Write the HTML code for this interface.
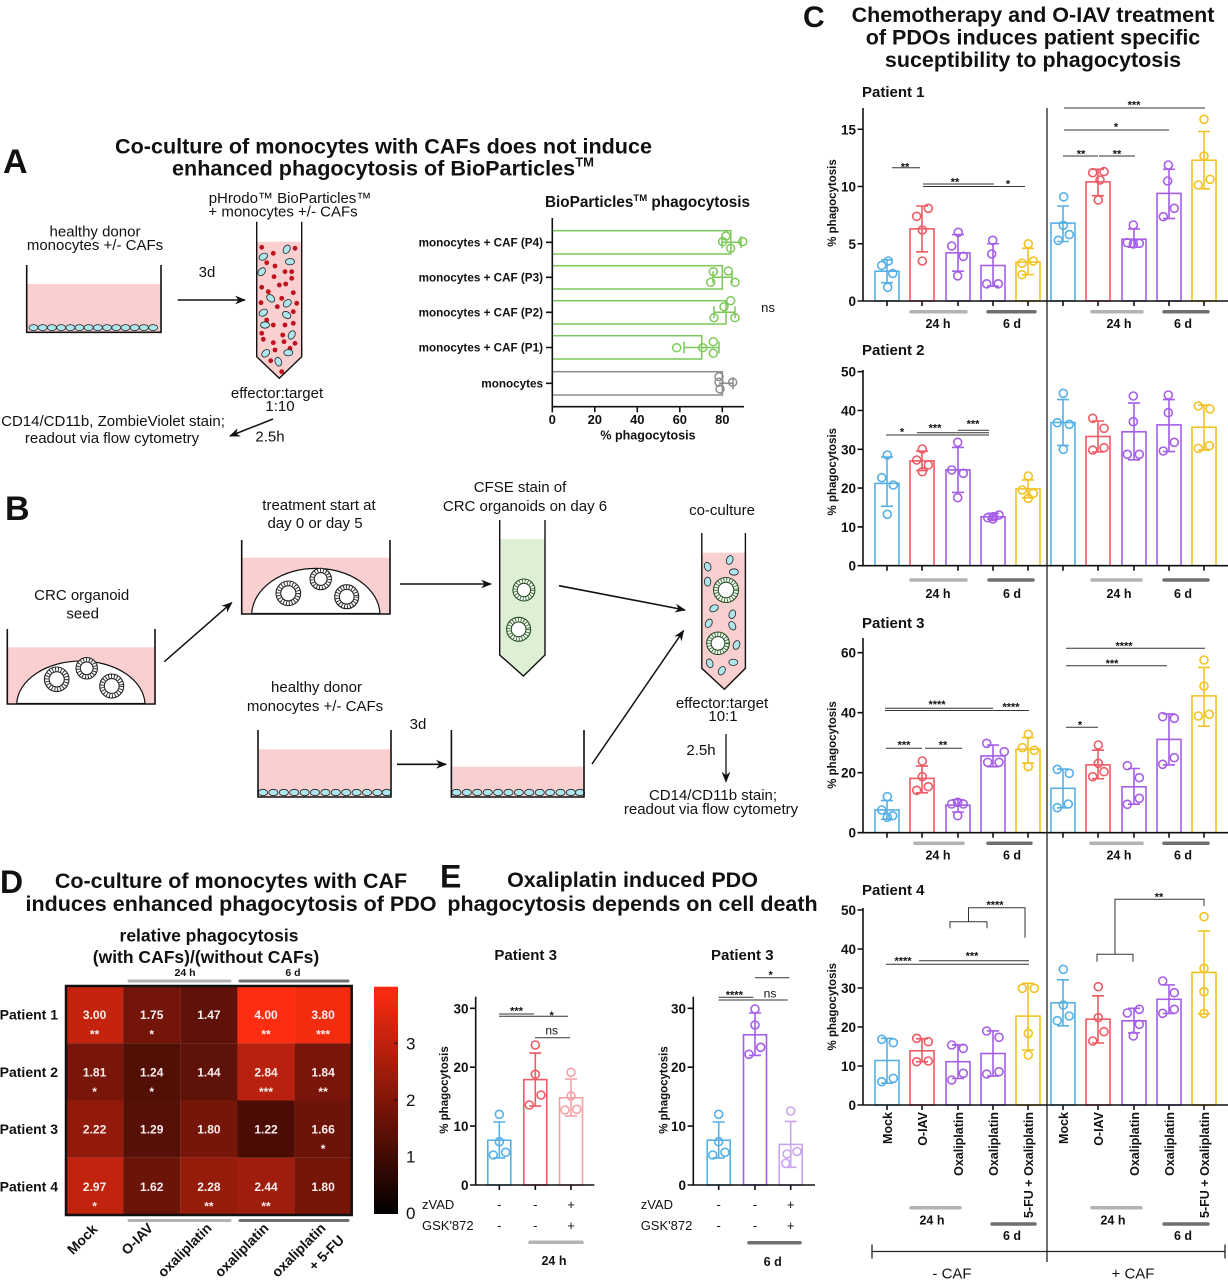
<!DOCTYPE html>
<html><head><meta charset="utf-8">
<style>
body{margin:0;background:#fff}
svg{display:block}
text{font-family:"Liberation Sans",Arial,sans-serif;fill:#111}
.b{font-weight:bold}
.ax{stroke:#111;stroke-width:1.6;fill:none}
.sg{stroke:#333;stroke-width:1;fill:none}
.st{font-size:11px;font-weight:bold;text-anchor:middle;fill:#222}
.tl{font-size:13.5px;font-weight:bold;text-anchor:end}
.m{text-anchor:middle}
.w{fill:#fbeeee}
.cell{fill:#aee6ee;stroke:#222;stroke-width:0.8}
.rd{fill:#c0121e}
</style></head>
<body>
<svg width="1228" height="1280" viewBox="0 0 1228 1280" xmlns="http://www.w3.org/2000/svg">
<defs>
<marker id="ah" viewBox="0 0 10 10" refX="9" refY="5" markerWidth="11" markerHeight="11" markerUnits="userSpaceOnUse" orient="auto"><path d="M0,1 L10,5 L0,9 L3,5 Z" fill="#111"/></marker>
<linearGradient id="cbar" x1="0" y1="1" x2="0" y2="0"><stop offset="0" stop-color="#000"/><stop offset="1" stop-color="#ff2c10"/></linearGradient>
</defs>
<rect width="1228" height="1280" fill="#fff"/>

<!-- ================= PANEL A ================= -->
<text x="3" y="173" class="b" font-size="34">A</text>
<text x="115" y="153.5" class="b" font-size="21.6" textLength="537" lengthAdjust="spacingAndGlyphs">Co-culture of monocytes with CAFs does not induce</text>
<text x="172" y="175.5" class="b" font-size="21.6">enhanced phagocytosis of BioParticles<tspan dy="-9" font-size="13">TM</tspan></text>

<text x="95" y="236.5" class="m" font-size="15">healthy donor</text>
<text x="95" y="250" class="m" font-size="15">monocytes +/- CAFs</text>
<rect x="27.5" y="284" width="132.7" height="47.5" fill="#f9cfcf"/>
<g>
<ellipse class="cell" cx="33.5" cy="327.6" rx="4.5" ry="3"/><ellipse class="cell" cx="42.7" cy="327.6" rx="4.5" ry="3"/><ellipse class="cell" cx="51.9" cy="327.6" rx="4.5" ry="3"/><ellipse class="cell" cx="61.1" cy="327.6" rx="4.5" ry="3"/><ellipse class="cell" cx="70.3" cy="327.6" rx="4.5" ry="3"/><ellipse class="cell" cx="79.5" cy="327.6" rx="4.5" ry="3"/><ellipse class="cell" cx="88.7" cy="327.6" rx="4.5" ry="3"/><ellipse class="cell" cx="97.9" cy="327.6" rx="4.5" ry="3"/><ellipse class="cell" cx="107.1" cy="327.6" rx="4.5" ry="3"/><ellipse class="cell" cx="116.3" cy="327.6" rx="4.5" ry="3"/><ellipse class="cell" cx="125.5" cy="327.6" rx="4.5" ry="3"/><ellipse class="cell" cx="134.7" cy="327.6" rx="4.5" ry="3"/><ellipse class="cell" cx="143.9" cy="327.6" rx="4.5" ry="3"/><ellipse class="cell" cx="153.1" cy="327.6" rx="4.5" ry="3"/>
</g>
<path d="M26.7 265V332.3H161V265" fill="none" stroke="#111" stroke-width="1.6"/>
<path d="M177.7 300H245" stroke="#111" stroke-width="1.6" marker-end="url(#ah)"/>
<text x="207" y="277" class="m" font-size="15">3d</text>

<text x="290" y="203" class="m" font-size="15">pHrodo™ BioParticles™</text>
<text x="283" y="216.5" class="m" font-size="15">+ monocytes +/- CAFs</text>
<path d="M256.7 241.7V356.7L279.3 378.3L301.7 356.7V241.7Z" fill="#f9cfcf"/>
<g class="rd">
<circle cx="261.7" cy="247.3" r="2.4"/><circle cx="295" cy="248.3" r="2.4"/><circle cx="273.3" cy="253.3" r="2.4"/><circle cx="266.7" cy="262.7" r="2.4"/><circle cx="275" cy="266" r="2.4"/><circle cx="285" cy="271.7" r="2.4"/><circle cx="291.7" cy="271.7" r="2.4"/><circle cx="274" cy="276.7" r="2.4"/><circle cx="291.7" cy="278.3" r="2.4"/><circle cx="279.3" cy="285" r="2.4"/><circle cx="285.7" cy="284" r="2.4"/><circle cx="261.7" cy="287.3" r="2.4"/><circle cx="268.3" cy="291.7" r="2.4"/><circle cx="293.3" cy="292.7" r="2.4"/><circle cx="281.7" cy="298.3" r="2.4"/><circle cx="296.7" cy="303.3" r="2.4"/><circle cx="261" cy="302.7" r="2.4"/><circle cx="277.3" cy="306.7" r="2.4"/><circle cx="293.3" cy="311.7" r="2.4"/><circle cx="266.7" cy="320" r="2.4"/><circle cx="273.3" cy="325" r="2.4"/><circle cx="285" cy="325" r="2.4"/><circle cx="261.7" cy="333.3" r="2.4"/><circle cx="282.7" cy="335" r="2.4"/><circle cx="293.3" cy="323.3" r="2.4"/><circle cx="263.3" cy="339.3" r="2.4"/><circle cx="273.3" cy="342.7" r="2.4"/><circle cx="284" cy="341.7" r="2.4"/><circle cx="295" cy="343.3" r="2.4"/><circle cx="275" cy="350" r="2.4"/><circle cx="290" cy="348.3" r="2.4"/><circle cx="270.7" cy="360.7" r="2.4"/><circle cx="281.7" cy="371.7" r="2.4"/>
</g>
<g>
<ellipse class="cell" cx="286.7" cy="249.3" rx="4.5" ry="3.2" transform="rotate(-60 286.7 249.3)"/><ellipse class="cell" cx="263.3" cy="256.7" rx="4.5" ry="3.2" transform="rotate(-30 263.3 256.7)"/><ellipse class="cell" cx="290" cy="261.7" rx="4.5" ry="3.2"/><ellipse class="cell" cx="261.7" cy="271.7" rx="4.5" ry="3.2" transform="rotate(-50 261.7 271.7)"/><ellipse class="cell" cx="270.7" cy="298.3" rx="4.5" ry="3.2" transform="rotate(40 270.7 298.3)"/><ellipse class="cell" cx="287.3" cy="303.3" rx="4.5" ry="3.2" transform="rotate(-40 287.3 303.3)"/><ellipse class="cell" cx="263.3" cy="312.7" rx="4.5" ry="3.2" transform="rotate(-30 263.3 312.7)"/><ellipse class="cell" cx="286.7" cy="315" rx="4.5" ry="3.2" transform="rotate(30 286.7 315)"/><ellipse class="cell" cx="265" cy="325" rx="4.5" ry="3.2"/><ellipse class="cell" cx="291.7" cy="335" rx="4.5" ry="3.2" transform="rotate(-60 291.7 335)"/><ellipse class="cell" cx="288.3" cy="352.7" rx="4.5" ry="3.2"/><ellipse class="cell" cx="265.7" cy="353.3" rx="4.5" ry="3.2" transform="rotate(-40 265.7 353.3)"/><ellipse class="cell" cx="278.3" cy="361.7" rx="4.5" ry="3.2" transform="rotate(70 278.3 361.7)"/>
</g>
<path d="M256.7 221.7V356.7L279.3 378.3L301.7 356.7V221.7" fill="none" stroke="#111" stroke-width="1.4"/>
<text x="277" y="398" class="m" font-size="15">effector:target</text>
<text x="280" y="411" class="m" font-size="15">1:10</text>
<path d="M273 419L230 436" stroke="#111" stroke-width="1.5" marker-end="url(#ah)"/>
<text x="270" y="441.5" class="m" font-size="15">2.5h</text>
<text x="113" y="426" class="m" font-size="15">CD14/CD11b, ZombieViolet stain;</text>
<text x="112" y="443" class="m" font-size="15">readout via flow cytometry</text>

<!-- Panel A chart -->
<text x="545" y="207" class="b" font-size="15.3">BioParticles<tspan dy="-6" font-size="9.5">TM</tspan><tspan dy="6"> phagocytosis</tspan></text>
<g fill="none" stroke-width="1.5">
<g stroke="#7cc95a">
<rect x="552.3" y="230.7" width="178.5" height="23.3"/>
<rect x="552.3" y="265.7" width="170" height="23.3"/>
<rect x="552.3" y="300.7" width="173.7" height="23.3"/>
<rect x="552.3" y="335.7" width="149.4" height="23.3"/>
<path d="M722 242.3H741M741 236.3v12M722 236.3v12"/>
<path d="M713 277.3H732M732 271.3v12M713 271.3v12"/>
<path d="M714 312.3H735M735 306.3v12M714 306.3v12"/>
<path d="M684 347.5H719M719 341.5v12M684 341.5v12"/>
<circle cx="726" cy="236" r="4"/><circle cx="722.7" cy="241.7" r="4"/><circle cx="742.7" cy="241.7" r="4"/><circle cx="730.7" cy="248.3" r="4"/>
<circle cx="713.3" cy="271.7" r="4"/><circle cx="728.3" cy="271" r="4"/><circle cx="710.7" cy="282.3" r="4"/><circle cx="735" cy="282.3" r="4"/>
<circle cx="730.7" cy="300.7" r="4"/><circle cx="724" cy="306.7" r="4"/><circle cx="714" cy="317.7" r="4"/><circle cx="735" cy="317.7" r="4"/>
<circle cx="676.7" cy="347.7" r="4"/><circle cx="702.7" cy="347.7" r="4"/><circle cx="713.3" cy="341.7" r="4"/><circle cx="713.3" cy="353.3" r="4"/>
</g>
<g stroke="#8c8c8c">
<rect x="552.3" y="371.7" width="170" height="23.3"/>
<path d="M719 383.3H733M733 377.3v12"/>
<circle cx="719" cy="376.7" r="4"/><circle cx="719" cy="382.3" r="4"/><circle cx="720" cy="389" r="4"/><circle cx="732.7" cy="382.3" r="4"/>
</g>
</g>
<path class="ax" d="M552.3 218V406.7H744M546 242.3h6.3M546 277.3h6.3M546 312.3h6.3M546 347.5h6.3M546 383.3h6.3M552.3 406.7v5.5M594.8 406.7v5.5M637.3 406.7v5.5M679.8 406.7v5.5M722.3 406.7v5.5"/>
<g class="b" font-size="11.7" text-anchor="end">
<text x="543" y="246.3">monocytes + CAF (P4)</text>
<text x="543" y="281.3">monocytes + CAF (P3)</text>
<text x="543" y="316.3">monocytes + CAF (P2)</text>
<text x="543" y="351.5">monocytes + CAF (P1)</text>
<text x="543" y="387.3">monocytes</text>
</g>
<g class="b m" font-size="13">
<text x="552.3" y="424">0</text><text x="594.8" y="424">20</text><text x="637.3" y="424">40</text><text x="679.8" y="424">60</text><text x="722.3" y="424">80</text>
</g>
<text x="648" y="439.5" class="b m" font-size="12.5">% phagocytosis</text>
<text x="768" y="312" class="m" font-size="13">ns</text>

<!-- ================= PANEL B ================= -->
<text x="5" y="520" class="b" font-size="34">B</text>
<text x="81.7" y="600" class="m" font-size="15">CRC organoid</text>
<text x="82.7" y="618.5" class="m" font-size="15">seed</text>
<rect x="8" y="647.3" width="146.3" height="56" fill="#f9cfcf"/>
<path d="M16.7 703.5A64.2 44.2 0 0 1 145 703.5Z" fill="#fff" stroke="#111" stroke-width="1.2"/>
<g fill="#fff" stroke="#222">
<g transform="translate(56.7 679.3)"><circle r="12.3" stroke-width="1.1"/><circle r="9.9" fill="none" stroke-width="3.6" stroke-dasharray="0.9 1.9"/><circle r="7.6" stroke-width="1.1"/></g>
<g transform="translate(86.7 668.3)"><circle r="10.7" stroke-width="1.1"/><circle r="8.5" fill="none" stroke-width="3.2" stroke-dasharray="0.9 1.9"/><circle r="6.4" stroke-width="1.1"/></g>
<g transform="translate(111.7 686)"><circle r="12" stroke-width="1.1"/><circle r="9.7" fill="none" stroke-width="3.6" stroke-dasharray="0.9 1.9"/><circle r="7.4" stroke-width="1.1"/></g>
</g>
<path d="M7.3 629V704H155V629" fill="none" stroke="#111" stroke-width="1.6"/>
<path d="M164.3 661.7L231.7 602.7" stroke="#111" stroke-width="1.5" marker-end="url(#ah)"/>

<text x="319" y="510" class="m" font-size="15">treatment start at</text>
<text x="315" y="528" class="m" font-size="15">day 0 or day 5</text>
<rect x="242.5" y="557.7" width="147.5" height="56" fill="#f9cfcf"/>
<path d="M251.7 613.5A64.2 47 0 0 1 380 613.5Z" fill="#fff" stroke="#111" stroke-width="1.2"/>
<g fill="#fff" stroke="#222">
<g transform="translate(288.3 593.3)"><circle r="12.3" stroke-width="1.1"/><circle r="9.9" fill="none" stroke-width="3.6" stroke-dasharray="0.9 1.9"/><circle r="7.6" stroke-width="1.1"/></g>
<g transform="translate(320.7 579)"><circle r="10.7" stroke-width="1.1"/><circle r="8.5" fill="none" stroke-width="3.2" stroke-dasharray="0.9 1.9"/><circle r="6.4" stroke-width="1.1"/></g>
<g transform="translate(346.7 596.7)"><circle r="12" stroke-width="1.1"/><circle r="9.7" fill="none" stroke-width="3.6" stroke-dasharray="0.9 1.9"/><circle r="7.4" stroke-width="1.1"/></g>
</g>
<path d="M241.7 540V614H390V540" fill="none" stroke="#111" stroke-width="1.6"/>
<path d="M400 584H491" stroke="#111" stroke-width="1.6" marker-end="url(#ah)"/>

<text x="520" y="492" class="m" font-size="15">CFSE stain of</text>
<text x="525" y="511" class="m" font-size="15">CRC organoids on day 6</text>
<path d="M499.7 539V655L523.4 676L545 655V539Z" fill="#ddf0d6"/>
<g fill="#fff" stroke="#264d22">
<g transform="translate(523.9 590)"><circle r="11" stroke-width="1.1"/><circle r="8.8" fill="none" stroke="#2f6a2a" stroke-width="3.2" stroke-dasharray="0.9 1.9"/><circle r="6.7" stroke-width="1.1"/></g>
<g transform="translate(518.6 629.3)"><circle r="12" stroke-width="1.1"/><circle r="9.7" fill="none" stroke="#2f6a2a" stroke-width="3.6" stroke-dasharray="0.9 1.9"/><circle r="7.4" stroke-width="1.1"/></g>
</g>
<path d="M499.7 520V655L523.4 676L545 655V520" fill="none" stroke="#111" stroke-width="1.4"/>
<path d="M559 585.7L685 610" stroke="#111" stroke-width="1.6" marker-end="url(#ah)"/>

<text x="722" y="515" class="m" font-size="15">co-culture</text>
<path d="M701.8 552.7V668.3L724.4 689.3L745.4 668.3V552.7Z" fill="#f9cfcf"/>
<g>
<ellipse class="cell" cx="729.7" cy="560" rx="3.2" ry="4.5" transform="rotate(20 729.7 560)"/><ellipse class="cell" cx="707.6" cy="566.7" rx="3.2" ry="4.5" transform="rotate(-20 707.6 566.7)"/><ellipse class="cell" cx="733.9" cy="572" rx="4.5" ry="3.2"/><ellipse class="cell" cx="707.6" cy="581.7" rx="3.2" ry="4.5"/><ellipse class="cell" cx="714" cy="608.3" rx="4.5" ry="3.2" transform="rotate(-30 714 608.3)"/><ellipse class="cell" cx="732.3" cy="614.3" rx="3.2" ry="4.5" transform="rotate(20 732.3 614.3)"/><ellipse class="cell" cx="708.7" cy="623.3" rx="3.2" ry="4.5" transform="rotate(30 708.7 623.3)"/><ellipse class="cell" cx="732.3" cy="625.7" rx="3.2" ry="4.5" transform="rotate(-30 732.3 625.7)"/><ellipse class="cell" cx="736.5" cy="645" rx="3.2" ry="4.5" transform="rotate(20 736.5 645)"/><ellipse class="cell" cx="709.7" cy="663.3" rx="3.2" ry="4.5" transform="rotate(-20 709.7 663.3)"/><ellipse class="cell" cx="733.3" cy="662.3" rx="4.5" ry="3.2"/><ellipse class="cell" cx="721.8" cy="670.7" rx="3.2" ry="4.5" transform="rotate(30 721.8 670.7)"/>
</g>
<g fill="#fff" stroke="#264d22">
<g transform="translate(726 590)"><circle r="12.5" stroke-width="1.1"/><circle r="10.1" fill="none" stroke="#2f6a2a" stroke-width="3.6" stroke-dasharray="0.9 1.9"/><circle r="7.8" stroke-width="1.1"/></g>
<g transform="translate(718 643.3)"><circle r="11.3" stroke-width="1.1"/><circle r="9.1" fill="none" stroke="#2f6a2a" stroke-width="3.4" stroke-dasharray="0.9 1.9"/><circle r="6.9" stroke-width="1.1"/></g>
</g>
<path d="M701.8 533V668.3L724.4 689.3L745.4 668.3V533" fill="none" stroke="#111" stroke-width="1.4"/>
<text x="722" y="708" class="m" font-size="15">effector:target</text>
<text x="723" y="721" class="m" font-size="15">10:1</text>
<path d="M726 734V781.7" stroke="#111" stroke-width="1.3" marker-end="url(#ah)"/>
<text x="701" y="755" class="m" font-size="15">2.5h</text>
<text x="713" y="800" class="m" font-size="15">CD14/CD11b stain;</text>
<text x="711" y="814" class="m" font-size="15">readout via flow cytometry</text>

<text x="316.5" y="692" class="m" font-size="15">healthy donor</text>
<text x="315" y="711" class="m" font-size="15">monocytes +/- CAFs</text>
<rect x="259" y="749.3" width="131.2" height="47" fill="#f9cfcf"/>
<g>
<ellipse class="cell" cx="263" cy="792.5" rx="4.6" ry="3.2"/><ellipse class="cell" cx="273.4" cy="792.5" rx="4.6" ry="3.2"/><ellipse class="cell" cx="283.8" cy="792.5" rx="4.6" ry="3.2"/><ellipse class="cell" cx="294.2" cy="792.5" rx="4.6" ry="3.2"/><ellipse class="cell" cx="304.6" cy="792.5" rx="4.6" ry="3.2"/><ellipse class="cell" cx="315" cy="792.5" rx="4.6" ry="3.2"/><ellipse class="cell" cx="325.4" cy="792.5" rx="4.6" ry="3.2"/><ellipse class="cell" cx="335.8" cy="792.5" rx="4.6" ry="3.2"/><ellipse class="cell" cx="346.2" cy="792.5" rx="4.6" ry="3.2"/><ellipse class="cell" cx="356.6" cy="792.5" rx="4.6" ry="3.2"/><ellipse class="cell" cx="367" cy="792.5" rx="4.6" ry="3.2"/><ellipse class="cell" cx="377.4" cy="792.5" rx="4.6" ry="3.2"/><ellipse class="cell" cx="386.8" cy="792.5" rx="4.6" ry="3.2"/>
</g>
<path d="M258 730V797H391V730" fill="none" stroke="#111" stroke-width="1.6"/>
<text x="418" y="729" class="m" font-size="15">3d</text>
<path d="M397 764.3H446" stroke="#111" stroke-width="1.6" marker-end="url(#ah)"/>
<rect x="452.4" y="766.7" width="131" height="29.6" fill="#f9cfcf"/>
<g>
<ellipse class="cell" cx="456.5" cy="792.5" rx="4.6" ry="3.2"/><ellipse class="cell" cx="466.9" cy="792.5" rx="4.6" ry="3.2"/><ellipse class="cell" cx="477.3" cy="792.5" rx="4.6" ry="3.2"/><ellipse class="cell" cx="487.7" cy="792.5" rx="4.6" ry="3.2"/><ellipse class="cell" cx="498.1" cy="792.5" rx="4.6" ry="3.2"/><ellipse class="cell" cx="508.5" cy="792.5" rx="4.6" ry="3.2"/><ellipse class="cell" cx="518.9" cy="792.5" rx="4.6" ry="3.2"/><ellipse class="cell" cx="529.3" cy="792.5" rx="4.6" ry="3.2"/><ellipse class="cell" cx="539.7" cy="792.5" rx="4.6" ry="3.2"/><ellipse class="cell" cx="550.1" cy="792.5" rx="4.6" ry="3.2"/><ellipse class="cell" cx="560.5" cy="792.5" rx="4.6" ry="3.2"/><ellipse class="cell" cx="570.9" cy="792.5" rx="4.6" ry="3.2"/><ellipse class="cell" cx="580" cy="792.5" rx="4.6" ry="3.2"/>
</g>
<path d="M451.4 730V797H584V730" fill="none" stroke="#111" stroke-width="1.6"/>
<path d="M592 764L683.5 630.7" stroke="#111" stroke-width="1.5" marker-end="url(#ah)"/>

<!-- ================= PANEL C ================= -->
<text x="803" y="27" class="b" font-size="30">C</text>
<g class="b m" font-size="21.5">
<text x="1033" y="22">Chemotherapy and O-IAV treatment</text>
<text x="1033" y="44.5">of PDOs induces patient specific</text>
<text x="1033" y="67">suceptibility to phagocytosis</text>
</g>
<path d="M1047 108V1262" stroke="#222" stroke-width="1.3"/>

<!-- Patient 1 -->
<text x="862" y="97" class="b" font-size="15">Patient 1</text>
<g fill="none" stroke-width="1.6">
<g stroke="#55b0e6">
<rect x="875" y="271.2" width="24" height="29.8"/><path d="M887 282.7V259.8M881 259.8h12M881 282.7h12"/>
<circle cx="881.7" cy="265.5" r="4"/><circle cx="888.3" cy="261" r="4"/><circle cx="892.7" cy="273.5" r="4"/><circle cx="887.7" cy="287.3" r="4"/>
<rect x="1051" y="223.1" width="24" height="77.9"/><path d="M1063 241.5V206M1057 206h12M1057 241.5h12"/>
<circle cx="1063.7" cy="196.8" r="4"/><circle cx="1063.3" cy="225.4" r="4"/><circle cx="1069.3" cy="234.6" r="4"/><circle cx="1058.3" cy="240.3" r="4"/>
</g>
<g stroke="#ef5a64">
<rect x="910" y="228.9" width="24" height="72.1"/><path d="M922 251.8V206M916 206h12M916 251.8h12"/>
<circle cx="916.7" cy="216.3" r="4"/><circle cx="922.3" cy="230" r="4"/><circle cx="928.3" cy="208.3" r="4"/><circle cx="922.3" cy="261" r="4"/>
<rect x="1086" y="181.9" width="24" height="119.1"/><path d="M1098 195.7V169.3M1092 169.3h12M1092 195.7h12"/>
<circle cx="1092.7" cy="172.7" r="4"/><circle cx="1104" cy="171.6" r="4"/><circle cx="1100" cy="180" r="4"/><circle cx="1098.3" cy="200" r="4"/>
</g>
<g stroke="#a55ee6">
<rect x="946" y="252.9" width="24" height="48.1"/><path d="M958 271.2V234.6M952 234.6h12M952 271.2h12"/>
<circle cx="958.3" cy="232.3" r="4"/><circle cx="951.7" cy="246" r="4"/><circle cx="963.3" cy="256.3" r="4"/><circle cx="957.7" cy="275.8" r="4"/>
<rect x="981" y="265.5" width="24" height="35.5"/><path d="M993 286.1V243.75M987 243.75h12M987 286.1h12"/>
<circle cx="992.7" cy="240.3" r="4"/><circle cx="991.7" cy="254" r="4"/><circle cx="986.7" cy="283.8" r="4"/><circle cx="998.3" cy="283.8" r="4"/>
<rect x="1122" y="239.2" width="24" height="61.8"/><path d="M1134 247.2V228.9M1128 228.9h12M1128 247.2h12"/>
<circle cx="1133.3" cy="225" r="4"/><circle cx="1127.3" cy="242.7" r="4"/><circle cx="1139.3" cy="243.3" r="4"/><circle cx="1133.3" cy="244" r="4"/>
<rect x="1157" y="193.4" width="24" height="107.6"/><path d="M1169 218.6V169.3M1163 169.3h12M1163 218.6h12"/>
<circle cx="1168.3" cy="165" r="4"/><circle cx="1167.7" cy="181" r="4"/><circle cx="1174.3" cy="208.3" r="4"/><circle cx="1163.3" cy="216.7" r="4"/>
</g>
<g stroke="#f2c224">
<rect x="1016" y="262.1" width="24" height="38.9"/><path d="M1028 274.7V248.3M1022 248.3h12M1022 274.7h12"/>
<circle cx="1028.3" cy="243.8" r="4"/><circle cx="1033.3" cy="261" r="4"/><circle cx="1022" cy="263.2" r="4"/><circle cx="1022" cy="274.7" r="4"/>
<rect x="1192" y="160.2" width="24" height="140.8"/><path d="M1204 188.8V131.5M1198 131.5h12M1198 188.8h12"/>
<circle cx="1204" cy="119.3" r="4"/><circle cx="1204" cy="156" r="4"/><circle cx="1210" cy="179.3" r="4"/><circle cx="1198.3" cy="185" r="4"/>
</g>
</g>
<path class="ax" d="M863 108V301H1228M857.5 301h5.5M857.5 243.75h5.5M857.5 186.5h5.5M857.5 129.25h5.5M887 301v5M922 301v5M958 301v5M993 301v5M1028 301v5M1063 301v5M1098 301v5M1134 301v5M1169 301v5M1204 301v5"/>
<g class="tl"><text x="856" y="306">0</text><text x="856" y="248.75">5</text><text x="856" y="191.5">10</text><text x="856" y="134.25">15</text></g>
<text transform="translate(836 203) rotate(-90)" class="b m" font-size="11.5">% phagocytosis</text>
<path class="sg" d="M892 167.7H920M923 184H994M923 186.5H1025M1064 108H1205M1064 130H1169M1063 156H1098M1099 156H1135"/>
<g class="st">
<text x="905" y="170.6">**</text><text x="955" y="185.5">**</text><text x="1008" y="187.3">*</text>
<text x="1134" y="108.6">***</text><text x="1116" y="130.3">*</text><text x="1081" y="157.3">**</text><text x="1117" y="157.3">**</text>
</g>
<path d="M911 311.7H966M1092 311.7H1142" stroke="#b3b3b3" stroke-width="3.5" stroke-linecap="round"/>
<path d="M988 311.7H1035M1164 311.7H1208" stroke="#6f6f6f" stroke-width="3.5" stroke-linecap="round"/>
<g class="b m" font-size="12.5"><text x="938" y="328">24 h</text><text x="1012" y="328">6 d</text><text x="1119" y="328">24 h</text><text x="1183" y="328">6 d</text></g>

<!-- Patient 2 -->
<text x="862" y="355" class="b" font-size="15">Patient 2</text>
<g fill="none" stroke-width="1.6">
<g stroke="#55b0e6">
<rect x="875" y="483.4" width="24" height="82.3"/><path d="M887 506.3V457.1M881 457.1h12M881 506.3h12"/>
<circle cx="887.3" cy="455" r="4"/><circle cx="881.7" cy="477.7" r="4"/><circle cx="893.3" cy="485" r="4"/><circle cx="887.3" cy="514.3" r="4"/>
<rect x="1051" y="422.5" width="24" height="143.2"/><path d="M1063 445.4V399.6M1057 399.6h12M1057 445.4h12"/>
<circle cx="1063.3" cy="393.3" r="4"/><circle cx="1057.3" cy="422.7" r="4"/><circle cx="1069.3" cy="424.3" r="4"/><circle cx="1063.3" cy="449.3" r="4"/>
</g>
<g stroke="#ef5a64">
<rect x="910" y="460.9" width="24" height="104.8"/><path d="M922 470.6V451.2M916 451.2h12M916 470.6h12"/>
<circle cx="922.3" cy="449" r="4"/><circle cx="916.7" cy="460" r="4"/><circle cx="928.3" cy="465" r="4"/><circle cx="922.3" cy="471.7" r="4"/>
<rect x="1086" y="436.5" width="24" height="129.2"/><path d="M1098 452V421M1092 421h12M1092 452h12"/>
<circle cx="1092.7" cy="418.3" r="4"/><circle cx="1104" cy="428.3" r="4"/><circle cx="1104" cy="447.7" r="4"/><circle cx="1092.7" cy="450" r="4"/>
</g>
<g stroke="#a55ee6">
<rect x="946" y="469.9" width="24" height="95.8"/><path d="M958 492.4V447.4M952 447.4h12M952 492.4h12"/>
<circle cx="957.7" cy="442.3" r="4"/><circle cx="951.7" cy="470" r="4"/><circle cx="963.3" cy="473.3" r="4"/><circle cx="957.7" cy="497.7" r="4"/>
<rect x="981" y="516.8" width="24" height="48.9"/><path d="M993 519.1V513.3M987 513.3h12M987 519.1h12"/>
<circle cx="987.7" cy="517.7" r="4"/><circle cx="993.3" cy="516.7" r="4"/><circle cx="999" cy="515" r="4"/><circle cx="993" cy="519" r="4"/>
<rect x="1122" y="431.8" width="24" height="133.9"/><path d="M1134 459.8V403.1M1128 403.1h12M1128 459.8h12"/>
<circle cx="1133.3" cy="396" r="4"/><circle cx="1133.3" cy="421.7" r="4"/><circle cx="1127.3" cy="454.3" r="4"/><circle cx="1139.3" cy="454.3" r="4"/>
<rect x="1157" y="424.9" width="24" height="140.8"/><path d="M1169 451.6V399.6M1163 399.6h12M1163 451.6h12"/>
<circle cx="1168.3" cy="395" r="4"/><circle cx="1168.3" cy="412.7" r="4"/><circle cx="1174.3" cy="442.3" r="4"/><circle cx="1163.3" cy="451" r="4"/>
</g>
<g stroke="#f2c224">
<rect x="1016" y="488.9" width="24" height="76.8"/><path d="M1028 497.8V479.9M1022 479.9h12M1022 497.8h12"/>
<circle cx="1028.3" cy="476" r="4"/><circle cx="1022.3" cy="490" r="4"/><circle cx="1033.3" cy="493.3" r="4"/><circle cx="1028.3" cy="498.3" r="4"/>
<rect x="1192" y="427.2" width="24" height="138.5"/><path d="M1204 450.1V405.1M1198 405.1h12M1198 450.1h12"/>
<circle cx="1198.3" cy="406" r="4"/><circle cx="1210" cy="409" r="4"/><circle cx="1209.3" cy="445.7" r="4"/><circle cx="1198.3" cy="448.3" r="4"/>
</g>
</g>
<path class="ax" d="M863 370V565.7H1228M857.5 565.7h5.5M857.5 526.9h5.5M857.5 488.1h5.5M857.5 449.3h5.5M857.5 410.5h5.5M857.5 371.7h5.5M887 565.7v5M922 565.7v5M958 565.7v5M993 565.7v5M1028 565.7v5M1063 565.7v5M1098 565.7v5M1134 565.7v5M1169 565.7v5M1204 565.7v5"/>
<g class="tl"><text x="856" y="570.7">0</text><text x="856" y="531.9">10</text><text x="856" y="493.1">20</text><text x="856" y="454.3">30</text><text x="856" y="415.5">40</text><text x="856" y="376.7">50</text></g>
<text transform="translate(836 471.7) rotate(-90)" class="b m" font-size="11.5">% phagocytosis</text>
<path class="sg" d="M886 435H989M917 432.7H989M958 430.3H989"/>
<g class="st"><text x="902" y="435.6">*</text><text x="935" y="431.3">***</text><text x="973" y="427.3">***</text></g>
<path d="M911 580H966M1092 580H1141" stroke="#b3b3b3" stroke-width="3.5" stroke-linecap="round"/>
<path d="M989 580H1033M1164 580H1208" stroke="#6f6f6f" stroke-width="3.5" stroke-linecap="round"/>
<g class="b m" font-size="12.5"><text x="938" y="598">24 h</text><text x="1012" y="598">6 d</text><text x="1119" y="598">24 h</text><text x="1183" y="598">6 d</text></g>

<!-- Patient 3 -->
<text x="862" y="628" class="b" font-size="15">Patient 3</text>
<g fill="none" stroke-width="1.6">
<g stroke="#55b0e6">
<rect x="875" y="809.9" width="24" height="22.8"/><path d="M887 819.2V800.6M881 800.6h12M881 819.2h12"/>
<circle cx="887.3" cy="796.7" r="4"/><circle cx="881.7" cy="810" r="4"/><circle cx="892.7" cy="815.7" r="4"/><circle cx="887.3" cy="817.3" r="4"/>
<rect x="1051" y="788.3" width="24" height="44.4"/><path d="M1063 807.8V769.1M1057 769.1h12M1057 807.8h12"/>
<circle cx="1057.3" cy="769.3" r="4"/><circle cx="1069.3" cy="773.3" r="4"/><circle cx="1068.3" cy="804" r="4"/><circle cx="1057.3" cy="807.7" r="4"/>
</g>
<g stroke="#ef5a64">
<rect x="910" y="778.4" width="24" height="54.3"/><path d="M922 792.8V766.1M916 766.1h12M916 792.8h12"/>
<circle cx="922.3" cy="761" r="4"/><circle cx="922.3" cy="776.7" r="4"/><circle cx="928.3" cy="786.7" r="4"/><circle cx="916.7" cy="790.3" r="4"/>
<rect x="1086" y="764.9" width="24" height="67.8"/><path d="M1098 778.7V750.2M1092 750.2h12M1092 778.7h12"/>
<circle cx="1098.3" cy="745" r="4"/><circle cx="1098.3" cy="763.3" r="4"/><circle cx="1104" cy="771.7" r="4"/><circle cx="1092.7" cy="776.7" r="4"/>
</g>
<g stroke="#a55ee6">
<rect x="946" y="805.1" width="24" height="27.6"/><path d="M958 812V799.7M952 799.7h12M952 812h12"/>
<circle cx="951.7" cy="804" r="4"/><circle cx="963.3" cy="804" r="4"/><circle cx="957.7" cy="802.3" r="4"/><circle cx="957.7" cy="815.7" r="4"/>
<rect x="981" y="755.9" width="24" height="76.8"/><path d="M993 766.7V745.1M987 745.1h12M987 766.7h12"/>
<circle cx="986.7" cy="743.3" r="4"/><circle cx="1004.3" cy="751.7" r="4"/><circle cx="987.7" cy="762.3" r="4"/><circle cx="999" cy="762.3" r="4"/>
<rect x="1122" y="786.8" width="24" height="45.9"/><path d="M1134 804.2V768.5M1128 768.5h12M1128 804.2h12"/>
<circle cx="1127.3" cy="765.7" r="4"/><circle cx="1139.3" cy="777.7" r="4"/><circle cx="1139.3" cy="798.3" r="4"/><circle cx="1127.3" cy="804.3" r="4"/>
<rect x="1157" y="739.4" width="24" height="93.3"/><path d="M1169 764.9V713.9M1163 713.9h12M1163 764.9h12"/>
<circle cx="1162.7" cy="716.7" r="4"/><circle cx="1174.3" cy="718.3" r="4"/><circle cx="1174.3" cy="757.7" r="4"/><circle cx="1162.7" cy="764.3" r="4"/>
</g>
<g stroke="#f2c224">
<rect x="1016" y="749.3" width="24" height="83.4"/><path d="M1028 763.1V737.6M1022 737.6h12M1022 763.1h12"/>
<circle cx="1028.3" cy="734.3" r="4"/><circle cx="1022.3" cy="747.7" r="4"/><circle cx="1034.3" cy="750.3" r="4"/><circle cx="1028.3" cy="766.7" r="4"/>
<rect x="1192" y="695.9" width="24" height="136.8"/><path d="M1204 726.2V667.4M1198 667.4h12M1198 726.2h12"/>
<circle cx="1204" cy="660" r="4"/><circle cx="1204" cy="686" r="4"/><circle cx="1209.3" cy="714.3" r="4"/><circle cx="1198.3" cy="716" r="4"/>
</g>
</g>
<path class="ax" d="M863 638V832.7H1228M857.5 832.7h5.5M857.5 772.7h5.5M857.5 712.7h5.5M857.5 652.7h5.5M887 832.7v5M922 832.7v5M958 832.7v5M993 832.7v5M1028 832.7v5M1063 832.7v5M1098 832.7v5M1134 832.7v5M1169 832.7v5M1204 832.7v5"/>
<g class="tl"><text x="856" y="837.7">0</text><text x="856" y="777.7">20</text><text x="856" y="717.7">40</text><text x="856" y="657.7">60</text></g>
<text transform="translate(836 745) rotate(-90)" class="b m" font-size="11.5">% phagocytosis</text>
<path class="sg" d="M885 708.3H993M885 710.5H1029M886 748.3H922M925 748.3H962M1066 648.3H1205M1066 665.7H1167M1066 727.3H1098"/>
<g class="st"><text x="937" y="708">****</text><text x="1011" y="710.6">****</text><text x="904" y="748.6">***</text><text x="943" y="748.6">**</text>
<text x="1124" y="649.6">****</text><text x="1112" y="667">***</text><text x="1080" y="728.6">*</text></g>
<path d="M915 843.3H963M1091 843.3H1142" stroke="#b3b3b3" stroke-width="3.5" stroke-linecap="round"/>
<path d="M988 843.3H1031M1164 843.3H1208" stroke="#6f6f6f" stroke-width="3.5" stroke-linecap="round"/>
<g class="b m" font-size="12.5"><text x="938" y="859.5">24 h</text><text x="1012" y="859.5">6 d</text><text x="1119" y="859.5">24 h</text><text x="1183" y="859.5">6 d</text></g>

<!-- Patient 4 -->
<text x="862" y="895" class="b" font-size="15">Patient 4</text>
<g fill="none" stroke-width="1.6">
<g stroke="#55b0e6">
<rect x="875" y="1060.5" width="24" height="44.5"/><path d="M887 1083.2V1038.3M881 1038.3h12M881 1083.2h12"/>
<circle cx="881.7" cy="1039.3" r="4"/><circle cx="893.3" cy="1042.7" r="4"/><circle cx="893.3" cy="1078.3" r="4"/><circle cx="881.7" cy="1081.7" r="4"/>
<rect x="1051" y="1002.8" width="24" height="102.2"/><path d="M1063 1025.8V979.8M1057 979.8h12M1057 1025.8h12"/>
<circle cx="1063.3" cy="969.3" r="4"/><circle cx="1063.3" cy="1005" r="4"/><circle cx="1069.3" cy="1016" r="4"/><circle cx="1057.3" cy="1020.7" r="4"/>
</g>
<g stroke="#ef5a64">
<rect x="910" y="1050.8" width="24" height="54.2"/><path d="M922 1061.7V1038.7M916 1038.7h12M916 1061.7h12"/>
<circle cx="916.7" cy="1038.3" r="4"/><circle cx="928.3" cy="1041.7" r="4"/><circle cx="916.7" cy="1061.7" r="4"/><circle cx="928.3" cy="1061" r="4"/>
<rect x="1086" y="1019.2" width="24" height="85.8"/><path d="M1098 1043V995.8M1092 995.8h12M1092 1043h12"/>
<circle cx="1098.3" cy="986.7" r="4"/><circle cx="1098.3" cy="1017.7" r="4"/><circle cx="1104" cy="1031.7" r="4"/><circle cx="1092.7" cy="1041" r="4"/>
</g>
<g stroke="#a55ee6">
<rect x="946" y="1061.7" width="24" height="43.3"/><path d="M958 1078.5V1044.9M952 1044.9h12M952 1078.5h12"/>
<circle cx="951.7" cy="1045" r="4"/><circle cx="963.3" cy="1048.3" r="4"/><circle cx="963.3" cy="1073.3" r="4"/><circle cx="951.7" cy="1080" r="4"/>
<rect x="981" y="1053.5" width="24" height="51.5"/><path d="M993 1076.1V1030.9M987 1030.9h12M987 1076.1h12"/>
<circle cx="986.7" cy="1031" r="4"/><circle cx="999" cy="1037.3" r="4"/><circle cx="999" cy="1071.7" r="4"/><circle cx="986.7" cy="1074" r="4"/>
<rect x="1122" y="1020.8" width="24" height="84.2"/><path d="M1134 1032.9V1008.3M1128 1008.3h12M1128 1032.9h12"/>
<circle cx="1127.3" cy="1013" r="4"/><circle cx="1139.3" cy="1009.3" r="4"/><circle cx="1139.3" cy="1024.3" r="4"/><circle cx="1133.3" cy="1036" r="4"/>
<rect x="1157" y="999.3" width="24" height="105.7"/><path d="M1169 1013.4V984.9M1163 984.9h12M1163 1013.4h12"/>
<circle cx="1162.7" cy="981" r="4"/><circle cx="1174.3" cy="992.7" r="4"/><circle cx="1174.3" cy="1009.3" r="4"/><circle cx="1162.7" cy="1013.3" r="4"/>
</g>
<g stroke="#f2c224">
<rect x="1016" y="1016.1" width="24" height="88.9"/><path d="M1028 1050V983.3M1022 983.3h12M1022 1050h12"/>
<circle cx="1022.3" cy="988.3" r="4"/><circle cx="1034.3" cy="988.3" r="4"/><circle cx="1028.3" cy="1033.3" r="4"/><circle cx="1028.3" cy="1055" r="4"/>
<rect x="1192" y="972.4" width="24" height="132.6"/><path d="M1204 1014.1V931.1M1198 931.1h12M1198 1014.1h12"/>
<circle cx="1204" cy="916.7" r="4"/><circle cx="1204" cy="968.3" r="4"/><circle cx="1204" cy="991.7" r="4"/><circle cx="1204" cy="1013.3" r="4"/>
</g>
</g>
<path class="ax" d="M863 908V1105H1228M857.5 1105h5.5M857.5 1066h5.5M857.5 1027h5.5M857.5 988h5.5M857.5 949h5.5M857.5 910h5.5M887 1105v5M922 1105v5M958 1105v5M993 1105v5M1028 1105v5M1063 1105v5M1098 1105v5M1134 1105v5M1169 1105v5M1204 1105v5"/>
<g class="tl"><text x="856" y="1110">0</text><text x="856" y="1071">10</text><text x="856" y="1032">20</text><text x="856" y="993">30</text><text x="856" y="954">40</text><text x="856" y="915">50</text></g>
<text transform="translate(836 1006.7) rotate(-90)" class="b m" font-size="11.5">% phagocytosis</text>
<path class="sg" d="M950 928.3V921.7H987V928.3M968.5 921.7V907.7H1025V937.7M886 964.3H1029M919 960.7H1029M1097 961.7V954.3H1133V961.7M1115 954.3V899.3H1204V906"/>
<g class="st"><text x="995" y="908.3">****</text><text x="903" y="964.6">****</text><text x="972" y="959.6">***</text><text x="1159" y="900.3">**</text></g>
<g class="b" font-size="12.5" text-anchor="end">
<text transform="translate(892 1112) rotate(-90)">Mock</text>
<text transform="translate(927 1112) rotate(-90)">O-IAV</text>
<text transform="translate(963 1112) rotate(-90)">Oxaliplatin</text>
<text transform="translate(998 1112) rotate(-90)">Oxaliplatin</text>
<text transform="translate(1033 1112) rotate(-90)">5-FU + Oxaliplatin</text>
<text transform="translate(1068 1112) rotate(-90)">Mock</text>
<text transform="translate(1103 1112) rotate(-90)">O-IAV</text>
<text transform="translate(1139 1112) rotate(-90)">Oxaliplatin</text>
<text transform="translate(1174 1112) rotate(-90)">Oxaliplatin</text>
<text transform="translate(1209 1112) rotate(-90)">5-FU + Oxaliplatin</text>
</g>
<path d="M911 1207.7H960M1092 1207.7H1141" stroke="#b3b3b3" stroke-width="3.5" stroke-linecap="round"/>
<path d="M992 1224H1035M1164 1224H1208" stroke="#6f6f6f" stroke-width="3.5" stroke-linecap="round"/>
<g class="b m" font-size="12.5"><text x="932" y="1224.5">24 h</text><text x="1012" y="1240">6 d</text><text x="1113" y="1224.5">24 h</text><text x="1183" y="1240">6 d</text></g>
<path d="M872 1244.5V1258.5M872 1251.5H1225M1225 1244.5V1258.5" stroke="#222" stroke-width="1.3" fill="none"/>
<text x="952" y="1278.5" class="m" font-size="15">- CAF</text>
<text x="1133" y="1278.5" class="m" font-size="15">+ CAF</text>

<!-- ================= PANEL D ================= -->
<text x="0" y="893" class="b" font-size="32">D</text>
<text x="231" y="888" class="b m" font-size="21.5">Co-culture of monocytes with CAF</text>
<text x="231" y="911" class="b m" font-size="21.5">induces enhanced phagocytosis of PDO</text>
<text x="209" y="941.7" class="b m" font-size="17.5">relative phagocytosis</text>
<text x="206" y="963" class="b m" font-size="17.5">(with CAFs)/(without CAFs)</text>
<text x="185" y="976" class="b m" font-size="10.5">24 h</text>
<text x="293" y="976" class="b m" font-size="10.5">6 d</text>
<path d="M129 981H230M129 1220.5H230" stroke="#b3b3b3" stroke-width="3" stroke-linecap="round"/>
<path d="M240 981H348M240 1220.5H348" stroke="#6f6f6f" stroke-width="3" stroke-linecap="round"/>
<g>
<rect x="66" y="986" width="57.2" height="57.3" fill="#c4240e"/><rect x="123.14" y="986" width="57.2" height="57.3" fill="#731509"/><rect x="180.28" y="986" width="57.2" height="57.3" fill="#611208"/><rect x="237.42" y="986" width="57.2" height="57.3" fill="#ff2e12"/><rect x="294.56" y="986" width="57.2" height="57.3" fill="#f32c10"/>
<rect x="66" y="1043.25" width="57.2" height="57.3" fill="#771609"/><rect x="123.14" y="1043.25" width="57.2" height="57.3" fill="#520f06"/><rect x="180.28" y="1043.25" width="57.2" height="57.3" fill="#5f1208"/><rect x="237.42" y="1043.25" width="57.2" height="57.3" fill="#b8210d"/><rect x="294.56" y="1043.25" width="57.2" height="57.3" fill="#791609"/>
<rect x="66" y="1100.5" width="57.2" height="57.3" fill="#911a0b"/><rect x="123.14" y="1100.5" width="57.2" height="57.3" fill="#561007"/><rect x="180.28" y="1100.5" width="57.2" height="57.3" fill="#761609"/><rect x="237.42" y="1100.5" width="57.2" height="57.3" fill="#4a0c05"/><rect x="294.56" y="1100.5" width="57.2" height="57.3" fill="#6d1409"/>
<rect x="66" y="1157.75" width="57.2" height="57.3" fill="#c1230e"/><rect x="123.14" y="1157.75" width="57.2" height="57.3" fill="#6b1408"/><rect x="180.28" y="1157.75" width="57.2" height="57.3" fill="#951b0b"/><rect x="237.42" y="1157.75" width="57.2" height="57.3" fill="#9f1d0c"/><rect x="294.56" y="1157.75" width="57.2" height="57.3" fill="#761609"/>
</g>
<rect x="66" y="986" width="285.7" height="229" fill="none" stroke="#111" stroke-width="2.5"/>
<g class="b m" font-size="12">
<text class="w" x="94.6" y="1019.1">3.00</text><text class="w" x="151.7" y="1019.1">1.75</text><text class="w" x="208.9" y="1019.1">1.47</text><text class="w" x="266" y="1019.1">4.00</text><text class="w" x="323.1" y="1019.1">3.80</text>
<text class="w" x="94.6" y="1038.6">**</text><text class="w" x="151.7" y="1038.6">*</text><text class="w" x="266" y="1038.6">**</text><text class="w" x="323.1" y="1038.6">***</text>
<text class="w" x="94.6" y="1076.4">1.81</text><text class="w" x="151.7" y="1076.4">1.24</text><text class="w" x="208.9" y="1076.4">1.44</text><text class="w" x="266" y="1076.4">2.84</text><text class="w" x="323.1" y="1076.4">1.84</text>
<text class="w" x="94.6" y="1095.9">*</text><text class="w" x="151.7" y="1095.9">*</text><text class="w" x="266" y="1095.9">***</text><text class="w" x="323.1" y="1095.9">**</text>
<text class="w" x="94.6" y="1133.6">2.22</text><text class="w" x="151.7" y="1133.6">1.29</text><text class="w" x="208.9" y="1133.6">1.80</text><text class="w" x="266" y="1133.6">1.22</text><text class="w" x="323.1" y="1133.6">1.66</text>
<text class="w" x="323.1" y="1153.1">*</text>
<text class="w" x="94.6" y="1190.9">2.97</text><text class="w" x="151.7" y="1190.9">1.62</text><text class="w" x="208.9" y="1190.9">2.28</text><text class="w" x="266" y="1190.9">2.44</text><text class="w" x="323.1" y="1190.9">1.80</text>
<text class="w" x="94.6" y="1210.4">*</text><text class="w" x="208.9" y="1210.4">**</text><text class="w" x="266" y="1210.4">**</text>
</g>
<g class="b" font-size="14" text-anchor="end">
<text x="58" y="1019.6">Patient 1</text><text x="58" y="1076.9">Patient 2</text><text x="58" y="1134.1">Patient 3</text><text x="58" y="1191.4">Patient 4</text>
</g>
<rect x="374" y="986.7" width="24" height="227.3" fill="url(#cbar)"/>
<path d="M394 1043.3h4M394 1100h4M394 1156.7h4" stroke="#111" stroke-width="1"/>
<g font-size="17"><text x="406" y="1219">0</text><text x="406" y="1162.7">1</text><text x="406" y="1106">2</text><text x="406" y="1049.3">3</text></g>
<g class="b" font-size="14" text-anchor="end">
<text transform="translate(98.3 1230) rotate(-45)">Mock</text>
<text transform="translate(154 1229) rotate(-45)">O-IAV</text>
<text transform="translate(212.5 1229) rotate(-45)">oxaliplatin</text>
<text transform="translate(269.5 1229) rotate(-45)">oxaliplatin</text>
<text transform="translate(326.5 1229) rotate(-45)">oxaliplatin</text>
<text transform="translate(345 1241) rotate(-45)">+ 5-FU</text>
</g>

<!-- ================= PANEL E ================= -->
<text x="440" y="887.5" class="b" font-size="32">E</text>
<text x="632.5" y="887" class="b m" font-size="21.5">Oxaliplatin induced PDO</text>
<text x="632.5" y="911" class="b m" font-size="21.5">phagocytosis depends on cell death</text>
<text x="525.7" y="960" class="b m" font-size="15">Patient 3</text>
<text x="742.3" y="960" class="b m" font-size="15">Patient 3</text>

<g fill="none" stroke-width="1.6">
<g stroke="#55b0e6">
<rect x="487.8" y="1140.2" width="23" height="44.8"/><path d="M499.3 1157.9V1122M493.3 1122h12M493.3 1157.9h12"/>
<circle cx="499.3" cy="1114.3" r="4"/><circle cx="499.3" cy="1141.7" r="4"/><circle cx="493.3" cy="1155" r="4"/><circle cx="505.7" cy="1152.3" r="4"/>
<rect x="707.2" y="1140.2" width="23" height="44.8"/><path d="M718.7 1157.9V1122M712.7 1122h12M712.7 1157.9h12"/>
<circle cx="718.7" cy="1114.3" r="4"/><circle cx="718.7" cy="1141.7" r="4"/><circle cx="712.7" cy="1155" r="4"/><circle cx="725" cy="1152.3" r="4"/>
</g>
<g stroke="#ef5a64">
<rect x="523.8" y="1079.6" width="23" height="105.4"/><path d="M535.3 1106.1V1053.1M529.3 1053.1h12M529.3 1106.1h12"/>
<circle cx="535.3" cy="1045" r="4"/><circle cx="535.3" cy="1074.3" r="4"/><circle cx="541" cy="1095" r="4"/><circle cx="529.3" cy="1105" r="4"/>
</g>
<g stroke="#f4a1a8">
<rect x="559.5" y="1097.8" width="23" height="87.2"/><path d="M571 1116.1V1079M565 1079h12M565 1116.1h12"/>
<circle cx="571" cy="1072.3" r="4"/><circle cx="571" cy="1096" r="4"/><circle cx="565" cy="1110" r="4"/><circle cx="576.7" cy="1109.3" r="4"/>
</g>
<g stroke="#a55ee6">
<rect x="743.5" y="1034.8" width="23" height="150.2"/><path d="M755 1055.4V1013M749 1013h12M749 1055.4h12"/>
<circle cx="755" cy="1009" r="4"/><circle cx="755" cy="1025" r="4"/><circle cx="749" cy="1054.3" r="4"/><circle cx="760.7" cy="1047.3" r="4"/>
</g>
<g stroke="#cba4ef">
<rect x="779.2" y="1144.4" width="23" height="40.6"/><path d="M790.7 1167.3V1121.4M784.7 1121.4h12M784.7 1167.3h12"/>
<circle cx="790.7" cy="1111" r="4"/><circle cx="797" cy="1151.5" r="4"/><circle cx="787" cy="1154" r="4"/><circle cx="785.7" cy="1163.3" r="4"/>
</g>
</g>
<path class="ax" d="M475.7 996.7V1185H594.3M470 1185h5.7M470 1126.1h5.7M470 1067.2h5.7M470 1008.3h5.7M499.3 1185v5M535.3 1185v5M571 1185v5"/>
<path class="ax" d="M693.3 996.7V1185H815M687.6 1185h5.7M687.6 1126.1h5.7M687.6 1067.2h5.7M687.6 1008.3h5.7M718.7 1185v5M755 1185v5M790.7 1185v5"/>
<g class="tl"><text x="468.5" y="1190">0</text><text x="468.5" y="1131.1">10</text><text x="468.5" y="1072.2">20</text><text x="468.5" y="1013.3">30</text>
<text x="686" y="1190">0</text><text x="686" y="1131.1">10</text><text x="686" y="1072.2">20</text><text x="686" y="1013.3">30</text></g>
<text transform="translate(448 1090) rotate(-90)" class="b m" font-size="11.5">% phagocytosis</text>
<text transform="translate(667.5 1090) rotate(-90)" class="b m" font-size="11.5">% phagocytosis</text>
<path class="sg" d="M499 1014H534M499 1016.3H568M535 1037.7H570M718.7 997.3H753.3M718.7 1000H787.7M755 977.7H789.3"/>
<g class="st"><text x="516.5" y="1014.6">***</text><text x="551.7" y="1019">*</text><text x="734.3" y="998.6">****</text><text x="770.7" y="978.6">*</text></g>
<text x="551.7" y="1034.5" class="m" font-size="12">ns</text>
<text x="770" y="997.3" class="m" font-size="12">ns</text>
<g font-size="13">
<text x="422" y="1209">zVAD</text><text x="422" y="1230">GSK'872</text>
<text x="640.7" y="1209">zVAD</text><text x="640.7" y="1230">GSK'872</text>
</g>
<g font-size="13" class="m">
<text x="499.3" y="1209">-</text><text x="535.3" y="1209">-</text><text x="571" y="1209">+</text>
<text x="499.3" y="1230">-</text><text x="535.3" y="1230">-</text><text x="571" y="1230">+</text>
<text x="718.7" y="1209">-</text><text x="755" y="1209">-</text><text x="790.7" y="1209">+</text>
<text x="718.7" y="1230">-</text><text x="755" y="1230">-</text><text x="790.7" y="1230">+</text>
</g>
<path d="M530 1242.3H582" stroke="#b3b3b3" stroke-width="3.5" stroke-linecap="round"/>
<path d="M749 1242.7H800" stroke="#6f6f6f" stroke-width="3.5" stroke-linecap="round"/>
<text x="554" y="1265" class="b m" font-size="12.5">24 h</text>
<text x="772.7" y="1266" class="b m" font-size="12.5">6 d</text>
</svg>
</body></html>
